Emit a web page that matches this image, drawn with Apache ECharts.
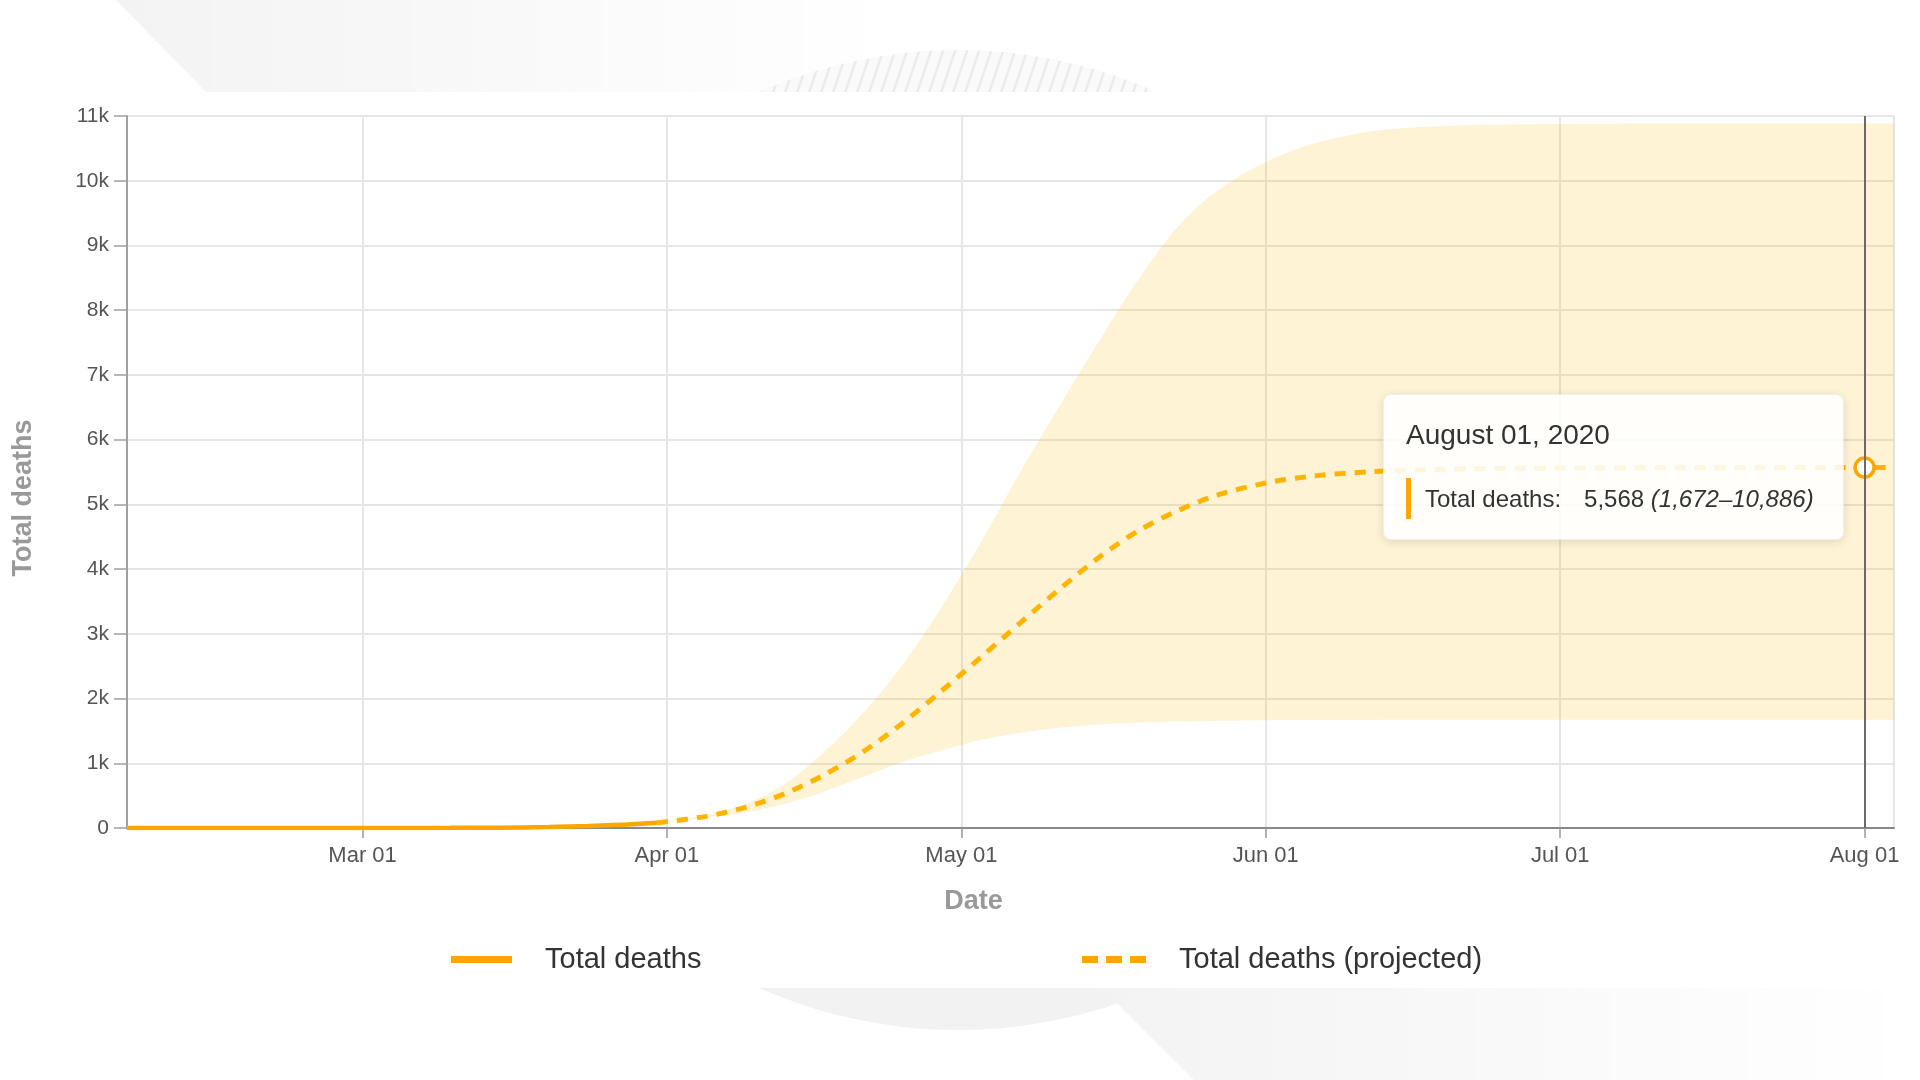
<!DOCTYPE html>
<html>
<head>
<meta charset="utf-8">
<title>Total deaths</title>
<script src="https://cdn.jsdelivr.net/npm/echarts@6/dist/echarts.min.js"></script>
<style>
html, body { margin: 0; padding: 0; background: #fff; }
#chart { width: 1920px; height: 1080px; }
</style>
</head>
<body>
<div id="chart"></div>
<script>
// observed deaths
const obsDates = ['2020-02-06', '2020-02-15', '2020-02-25', '2020-03-05', '2020-03-10', '2020-03-15', '2020-03-20', '2020-03-24', '2020-03-28', '2020-03-31']
const obsDeaths = [0, 0, 0, 1, 2, 5, 15, 30, 55, 80]

// projection (dashed)
const projDates = ['2020-03-31', '2020-04-05', '2020-04-09', '2020-04-13', '2020-04-17', '2020-04-21', '2020-04-25', '2020-04-29', '2020-05-03', '2020-05-07', '2020-05-11', '2020-05-15', '2020-05-19', '2020-05-23', '2020-05-27', '2020-06-01', '2020-06-06', '2020-06-12', '2020-06-20', '2020-07-01', '2020-07-15', '2020-08-01', '2020-08-04']
const projDeaths = [80, 180, 320, 530, 820, 1180, 1620, 2120, 2640, 3170, 3690, 4180, 4590, 4900, 5140, 5330, 5440, 5506, 5546, 5560, 5566, 5568, 5568]

// uncertainty band
const bandDates = ['2020-04-01', '2020-04-05', '2020-04-09', '2020-04-13', '2020-04-17', '2020-04-21', '2020-04-25', '2020-04-29', '2020-05-03', '2020-05-07', '2020-05-11', '2020-05-15', '2020-05-19', '2020-05-23', '2020-05-27', '2020-06-01', '2020-06-06', '2020-06-12', '2020-06-20', '2020-07-01', '2020-07-15', '2020-08-01', '2020-08-04']
const bandLower = [95, 160, 240, 370, 560, 790, 1020, 1200, 1360, 1470, 1550, 1600, 1630, 1645, 1655, 1665, 1668, 1670, 1671, 1672, 1672, 1672, 1672]
const bandUpper = [95, 200, 370, 680, 1170, 1780, 2520, 3420, 4420, 5500, 6520, 7520, 8470, 9280, 9840, 10290, 10580, 10770, 10850, 10877, 10884, 10886, 10886]

const yTickLabels = ['0', '1k', '2k', '3k', '4k', '5k', '6k', '7k', '8k', '9k', '10k', '11k']
const tipDate = '2020-08-01'

const ORANGE = '#ffa500'
const FONT = '"Liberation Sans", Arial, sans-serif'

const chart = echarts.init(document.getElementById('chart'))

function hatchPattern() {
  const c = document.createElement('canvas')
  c.width = 12
  c.height = 36
  const ctx = c.getContext('2d')
  ctx.fillStyle = '#fafafa'
  ctx.fillRect(0, 0, 12, 36)
  ctx.strokeStyle = '#ebebeb'
  ctx.lineWidth = 2.5
  for (const dx of [-12, 0, 12]) {
    ctx.beginPath()
    ctx.moveTo(dx, 36)
    ctx.lineTo(dx + 12, 0)
    ctx.stroke()
  }
  return c
}

function fmt(n) {
  return n.toLocaleString('en-US')
}

function tooltipFormatter(params) {
  const p = params.find(item => item.seriesName === 'Total deaths (projected)') || params[0]
  const day = projDates[p.dataIndex]
  const bi = bandDates.indexOf(day)
  const title = echarts.time.format(p.axisValue, '{MMMM} {dd}, {yyyy}', false)
  return '<div style="font-size:28px;line-height:34px;color:#333;">' + title + '</div>' +
    '<div style="display:flex;align-items:center;margin-top:26px;">' +
    '<span style="display:inline-block;width:5px;height:41px;background:' + ORANGE + ';margin-right:14px;"></span>' +
    '<span style="font-size:24px;color:#333;"><span style="margin-right:23px;">Total deaths:</span>' +
    fmt(projDeaths[p.dataIndex]) + ' <i>(' + fmt(bandLower[bi]) + '–' + fmt(bandUpper[bi]) + ')</i></span></div>'
}

const option = {
  animation: false,
  backgroundColor: '#fff',
  textStyle: { fontFamily: FONT },
  graphic: [
    {
      type: 'polygon', z: -10, silent: true,
      shape: { points: [[116, 0], [900, 0], [900, 92], [206, 92]] },
      style: { fill: new echarts.graphic.LinearGradient(0, 0, 1, 0, [{ offset: 0, color: '#f3f3f3' }, { offset: 1, color: '#ffffff' }]) }
    },
    {
      type: 'circle', z: -10, silent: true,
      shape: { cx: 958, cy: 540, r: 490 },
      style: { fill: { image: hatchPattern(), repeat: 'repeat' } }
    },
    {
      type: 'sector', z: -10, silent: true,
      shape: { cx: 958, cy: 540, r: 490, r0: 0, startAngle: 0, endAngle: Math.PI },
      style: { fill: '#f2f2f2' }
    },
    {
      type: 'polygon', z: -10, silent: true,
      shape: { points: [[1102, 988], [1920, 988], [1920, 1080], [1194, 1080]] },
      style: { fill: new echarts.graphic.LinearGradient(0, 0, 1, 0, [{ offset: 0, color: '#f3f3f3' }, { offset: 1, color: '#ffffff' }]) }
    },
    {
      type: 'rect', z: -9, silent: true,
      shape: { x: 0, y: 92, width: 1920, height: 896 },
      style: { fill: '#ffffff' }
    }
  ],
  grid: {
    left: 127,
    right: 26,
    top: 116,
    bottom: 252,
    containLabel: false,
    outerBoundsMode: 'none',
    show: true,
    borderColor: '#e6e6e6',
    borderWidth: 1,
    backgroundColor: 'transparent'
  },
  legend: [
    {
      left: 451,
      top: 945,
      padding: 0,
      itemWidth: 61,
      itemHeight: 7,
      selectedMode: false,
      textStyle: { fontSize: 29, color: '#333', fontFamily: FONT, padding: [0, 0, 0, 28] },
      data: [{ name: 'Total deaths', icon: 'rect', itemStyle: { color: ORANGE, borderWidth: 0 } }]
    },
    {
      left: 1082,
      top: 945,
      padding: 0,
      itemWidth: 64,
      itemHeight: 7,
      selectedMode: false,
      textStyle: { fontSize: 29, color: '#333', fontFamily: FONT, padding: [0, 0, 0, 28] },
      data: [{
        name: 'Total deaths (projected)',
        icon: 'path://M0,0h16v7h-16z M24,0h16v7h-16z M48,0h16v7h-16z',
        itemStyle: { color: ORANGE, borderWidth: 0 }
      }]
    }
  ],
  tooltip: {
    trigger: 'axis',
    triggerOn: 'none',
    alwaysShowContent: true,
    transitionDuration: 0,
    axisPointer: {
      type: 'line',
      animation: false,
      lineStyle: { color: '#6a6a6a', width: 2, type: 'solid' }
    },
    backgroundColor: 'rgba(255, 255, 255, 0.88)',
    borderColor: 'rgba(0, 0, 0, 0.06)',
    borderWidth: 1,
    padding: [23, 22, 0, 22],
    extraCssText: 'width:461px;height:146px;box-sizing:border-box;border-radius:8px;box-shadow:0 2px 10px rgba(0,0,0,0.12);',
    position: (point, params, dom, rect, size) => [point[0] - size.contentSize[0] - 21, point[1] - 74],
    formatter: tooltipFormatter
  },
  xAxis: {
    type: 'time',
    min: '2020-02-06',
    max: '2020-08-04',
    splitNumber: 6,
    name: 'Date',
    nameLocation: 'middle',
    nameGap: 60,
    nameTextStyle: { fontSize: 27, fontWeight: 'bold', color: '#999', fontFamily: FONT, padding: [0, 74, 0, 0] },
    axisLine: { show: true, lineStyle: { color: '#888', width: 2 } },
    axisTick: { show: true, length: 10, lineStyle: { color: '#999', width: 1.5 } },
    axisLabel: {
      fontSize: 22,
      color: '#555',
      margin: 17,
      fontFamily: FONT,
      formatter: v => echarts.time.format(v, '{MMM} {dd}', false)
    },
    splitLine: { show: true, lineStyle: { color: '#e6e6e6', width: 2 } }
  },
  yAxis: {
    type: 'value',
    min: 0,
    max: 11000,
    interval: 1000,
    name: 'Total deaths',
    nameLocation: 'middle',
    nameGap: 90,
    nameTextStyle: { fontSize: 27, fontWeight: 'bold', color: '#999', fontFamily: FONT, padding: [0, 52, 0, 0] },
    axisLine: { show: true, lineStyle: { color: '#a0a0a0', width: 2 } },
    axisTick: { show: true, length: 13, lineStyle: { color: '#a0a0a0', width: 1.5 } },
    axisLabel: {
      fontSize: 21,
      color: '#555',
      margin: 18,
      fontFamily: FONT,
      formatter: v => yTickLabels[Math.round(v / 1000)]
    },
    splitLine: { show: true, lineStyle: { color: '#e6e6e6', width: 2 } }
  },
  series: [
    {
      name: 'ci-lower',
      type: 'line',
      stack: 'ci',
      smooth: 0.3,
      symbol: 'none',
      silent: true,
      z: 1,
      lineStyle: { opacity: 0 },
      data: bandDates.map((d, i) => [d, bandLower[i]])
    },
    {
      name: 'ci-range',
      type: 'line',
      stack: 'ci',
      smooth: 0.3,
      symbol: 'none',
      silent: true,
      z: 1,
      lineStyle: { opacity: 0 },
      areaStyle: { color: 'rgba(253, 165, 0, 0.16)', opacity: 1 },
      data: bandDates.map((d, i) => [d, bandUpper[i] - bandLower[i]])
    },
    {
      name: 'Total deaths',
      type: 'line',
      smooth: 0.3,
      symbol: 'none',
      z: 3,
      lineStyle: { color: ORANGE, width: 4.5 },
      itemStyle: { color: ORANGE },
      emphasis: { disabled: true },
      data: obsDates.map((d, i) => [d, obsDeaths[i]])
    },
    {
      name: 'Total deaths (projected)',
      type: 'line',
      smooth: 0.3,
      symbol: 'circle',
      symbolSize: 19,
      showSymbol: false,
      z: 4,
      lineStyle: { color: ORANGE, width: 5, type: [11, 9] },
      itemStyle: { color: '#fff', borderColor: ORANGE, borderWidth: 3.5 },
      emphasis: {
        scale: false,
        lineStyle: { width: 5 },
        itemStyle: { color: '#fff', borderColor: ORANGE, borderWidth: 3.5 }
      },
      data: projDates.map((d, i) => [d, projDeaths[i]])
    }
  ]
}

chart.setOption(option)

chart.dispatchAction({
  type: 'showTip',
  seriesIndex: 3,
  dataIndex: projDates.indexOf(tipDate)
})

window.addEventListener('resize', () => chart.resize())
</script>
</body>
</html>
